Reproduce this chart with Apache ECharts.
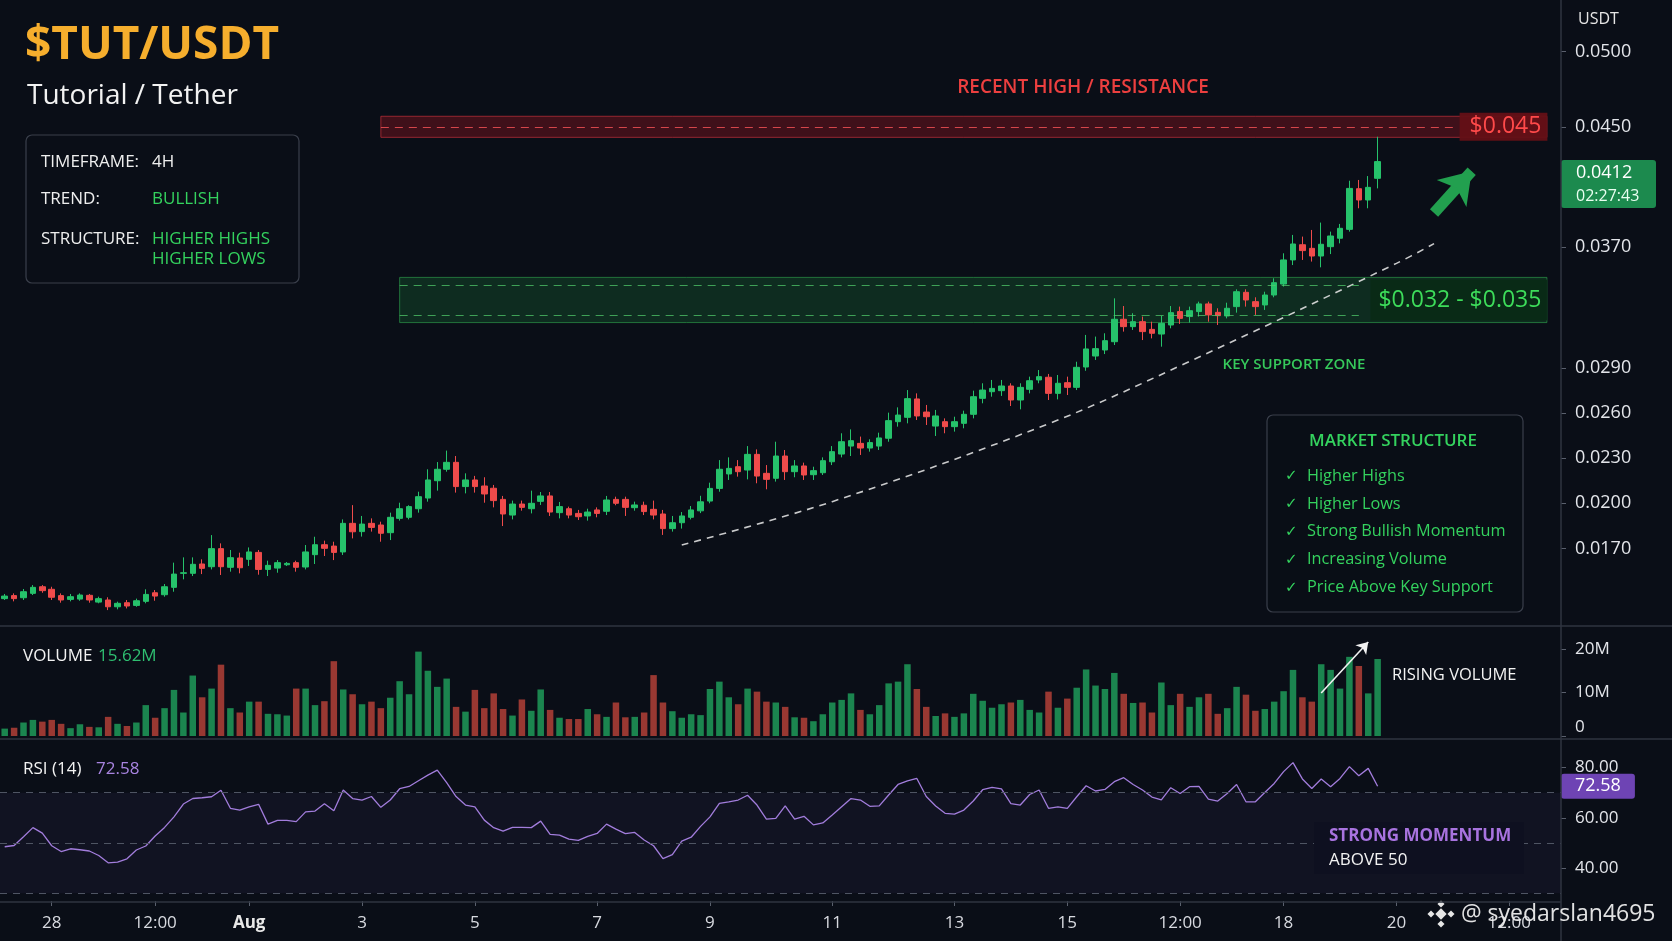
<!DOCTYPE html>
<html>
<head>
<meta charset="utf-8">
<script src="https://cdn.jsdelivr.net/npm/echarts@6/dist/echarts.min.js"></script>
<style>
html,body{margin:0;padding:0;background:#0a0e17;}
#chart{width:1672px;height:941px;}
</style>
</head>
<body>
<div id="chart"></div>
<script>
// ---------------- DATA ----------------
const opens = [0.01367,0.01387,0.01373,0.01402,0.01446,0.01429,0.01387,0.01362,0.01364,0.01389,
0.01344,0.01358,0.01313,0.01340,0.01322,0.01349,0.01406,0.01393,0.01442,0.01535,
0.01535,0.01597,0.01579,0.01699,0.01575,0.01637,0.01628,0.01674,0.01561,0.01570,
0.01592,0.01606,0.01577,0.01659,0.01725,0.01716,0.01677,0.01867,0.01812,0.01867,
0.01856,0.01805,0.01900,0.01907,0.01964,0.02035,0.02150,0.02226,0.02272,0.02111,
0.02155,0.02115,0.02100,0.02026,0.01922,0.01995,0.01964,0.02013,0.02049,0.01938,
0.01964,0.01933,0.01916,0.01956,0.01947,0.02026,0.02026,0.01971,0.01987,0.01960,
0.01929,0.01832,0.01871,0.01907,0.01950,0.02015,0.02099,0.02195,0.02243,0.02221,
0.02325,0.02199,0.02166,0.02314,0.02210,0.02248,0.02190,0.02203,0.02276,0.02327,
0.02380,0.02398,0.02367,0.02380,0.02432,0.02542,0.02571,0.02693,0.02606,0.02513,
0.02542,0.02509,0.02531,0.02591,0.02697,0.02741,0.02748,0.02779,0.02686,0.02757,
0.02819,0.02837,0.02730,0.02801,0.02770,0.02905,0.02978,0.03018,0.03073,0.03222,
0.03173,0.03206,0.03155,0.03124,0.03184,0.03273,0.03240,0.03273,0.03324,0.03268,
0.03244,0.03306,0.03401,0.03339,0.03317,0.03383,0.03456,0.03616,0.03717,0.03693,
0.03642,0.03704,0.03760,0.03819,0.04089,0.04014,0.04158];
const closes = [0.01384,0.01367,0.01413,0.01442,0.01420,0.01376,0.01358,0.01380,0.01391,0.01358,
0.01367,0.01313,0.01336,0.01318,0.01353,0.01395,0.01384,0.01446,0.01530,0.01539,
0.01595,0.01568,0.01699,0.01579,0.01639,0.01572,0.01677,0.01561,0.01588,0.01606,
0.01601,0.01575,0.01677,0.01725,0.01701,0.01674,0.01867,0.01811,0.01862,0.01840,
0.01801,0.01907,0.01964,0.01978,0.02044,0.02155,0.02226,0.02272,0.02111,0.02155,
0.02111,0.02062,0.02018,0.01929,0.01995,0.01973,0.02000,0.02049,0.01942,0.01978,
0.01922,0.01911,0.01942,0.01933,0.02022,0.02000,0.01973,0.01989,0.01945,0.01922,
0.01832,0.01871,0.01916,0.01956,0.02010,0.02099,0.02226,0.02232,0.02210,0.02325,
0.02181,0.02159,0.02314,0.02210,0.02248,0.02188,0.02217,0.02283,0.02343,0.02409,
0.02416,0.02367,0.02403,0.02434,0.02549,0.02586,0.02695,0.02580,0.02575,0.02580,
0.02509,0.02542,0.02591,0.02708,0.02752,0.02763,0.02779,0.02686,0.02770,0.02814,
0.02841,0.02730,0.02797,0.02770,0.02903,0.03025,0.03027,0.03080,0.03222,0.03173,
0.03206,0.03140,0.03129,0.03195,0.03266,0.03228,0.03279,0.03324,0.03251,0.03246,
0.03295,0.03405,0.03350,0.03306,0.03383,0.03465,0.03616,0.03722,0.03678,0.03642,
0.03720,0.03775,0.03826,0.04091,0.04014,0.04098,0.04269];
const lows = [0.01358,0.01349,0.01358,0.01391,0.01406,0.01358,0.01340,0.01349,0.01353,0.01340,
0.01336,0.01291,0.01296,0.01302,0.01313,0.01336,0.01353,0.01380,0.01413,0.01495,
0.01517,0.01530,0.01561,0.01524,0.01546,0.01535,0.01584,0.01526,0.01517,0.01539,
0.01584,0.01546,0.01561,0.01597,0.01650,0.01623,0.01657,0.01767,0.01779,0.01812,
0.01745,0.01756,0.01885,0.01893,0.01938,0.02011,0.02084,0.02210,0.02071,0.02066,
0.02071,0.02004,0.01973,0.01849,0.01893,0.01951,0.01933,0.01989,0.01916,0.01900,
0.01900,0.01889,0.01885,0.01907,0.01922,0.01987,0.01916,0.01951,0.01922,0.01893,
0.01790,0.01812,0.01832,0.01893,0.01935,0.02000,0.02077,0.02155,0.02177,0.02159,
0.02133,0.02093,0.02144,0.02155,0.02173,0.02155,0.02155,0.02188,0.02254,0.02305,
0.02314,0.02321,0.02343,0.02354,0.02409,0.02509,0.02531,0.02553,0.02520,0.02447,
0.02465,0.02476,0.02498,0.02564,0.02664,0.02708,0.02713,0.02646,0.02624,0.02730,
0.02797,0.02686,0.02690,0.02719,0.02752,0.02880,0.02952,0.02991,0.03051,0.03140,
0.03151,0.03084,0.03095,0.03040,0.03162,0.03191,0.03200,0.03240,0.03206,0.03184,
0.03228,0.03266,0.03306,0.03251,0.03284,0.03368,0.03439,0.03582,0.03616,0.03605,
0.03567,0.03655,0.03726,0.03804,0.03959,0.03959,0.04091];
const highs = [0.01398,0.01402,0.01431,0.01457,0.01457,0.01446,0.01402,0.01398,0.01402,0.01398,
0.01380,0.01376,0.01347,0.01358,0.01367,0.01429,0.01424,0.01464,0.01606,0.01641,
0.01641,0.01628,0.01789,0.01734,0.01690,0.01672,0.01707,0.01690,0.01619,0.01623,
0.01610,0.01619,0.01723,0.01778,0.01752,0.01745,0.01893,0.01988,0.01916,0.01900,
0.01878,0.01938,0.02004,0.01987,0.02077,0.02226,0.02274,0.02350,0.02314,0.02199,
0.02182,0.02173,0.02122,0.02049,0.02018,0.02018,0.02084,0.02075,0.02075,0.02009,
0.01978,0.01956,0.01964,0.01973,0.02049,0.02044,0.02044,0.02011,0.02011,0.02018,
0.01956,0.01916,0.01942,0.01982,0.02050,0.02137,0.02287,0.02305,0.02287,0.02380,
0.02358,0.02254,0.02409,0.02354,0.02287,0.02270,0.02243,0.02305,0.02380,0.02465,
0.02491,0.02443,0.02425,0.02469,0.02602,0.02637,0.02752,0.02730,0.02653,0.02620,
0.02564,0.02575,0.02615,0.02748,0.02797,0.02819,0.02819,0.02797,0.02797,0.02841,
0.02885,0.02859,0.02852,0.02841,0.02940,0.03118,0.03107,0.03129,0.03361,0.03310,
0.03262,0.03240,0.03206,0.03244,0.03310,0.03306,0.03306,0.03339,0.03339,0.03295,
0.03332,0.03421,0.03421,0.03368,0.03405,0.03494,0.03660,0.03782,0.03771,0.03815,
0.03864,0.03804,0.03855,0.04142,0.04147,0.04173,0.04434];
const volumes = [1.7e6,1.9e6,3.1e6,3.7e6,3.3e6,3.7e6,2.8e6,1.8e6,2.7e6,2.1e6,
2.0e6,4.4e6,2.8e6,2.3e6,3.1e6,7.1e6,4.2e6,6.4e6,10.6e6,5.4e6,
13.9e6,8.9e6,10.9e6,16.4e6,6.4e6,5.4e6,7.9e6,7.9e6,5.1e6,5.0e6,
4.7e6,10.9e6,10.9e6,7.1e6,8.0e6,17.2e6,10.7e6,9.6e6,7.3e6,
7.9e6,6.4e6,8.8e6,12.6e6,9.6e6,19.4e6,15.0e6,11.3e6,13.2e6,6.7e6,
5.6e6,10.6e6,6.4e6,9.8e6,6.2e6,4.7e6,8.4e6,5.8e6,10.7e6,
6.0e6,4.2e6,3.9e6,3.9e6,6.2e6,5.0e6,4.4e6,7.7e6,4.3e6,4.4e6,
5.4e6,14.0e6,7.7e6,5.7e6,4.2e6,5.0e6,
4.8e6,10.8e6,12.5e6,8.9e6,7.3e6,10.9e6,10.2e6,7.9e6,7.7e6,
6.7e6,4.3e6,4.2e6,3.4e6,5.0e6,7.7e6,8.3e6,9.8e6,6.0e6,5.0e6,
7.1e6,12.1e6,12.5e6,16.5e6,10.8e6,6.7e6,4.6e6,5.2e6,4.4e6,5.2e6,
9.7e6,8.1e6,6.5e6,7.3e6,7.7e6,8.3e6,6.0e6,5.4e6,10.2e6,6.5e6,
8.6e6,11.1e6,15.3e6,11.6e6,10.8e6,14.5e6,9.7e6,7.6e6,7.7e6,5.4e6,
12.3e6,7.1e6,9.7e6,6.7e6,8.9e6,9.7e6,5.1e6,6.4e6,11.3e6,9.5e6,
5.8e6,6.2e6,7.9e6,10.3e6,15.2e6,8.9e6,7.9e6,16.5e6,15.2e6,10.9e6,
18.2e6,16.1e6,9.8e6,17.7e6];
const rsi = [48.5,49.0,52.5,56.1,53.9,48.9,46.6,47.7,47.3,46.8,
45.0,42.1,42.4,43.7,47.2,48.8,52.8,56.2,60.4,65.5,
67.7,68.0,68.4,71.0,63.8,63.1,64.4,65.4,57.5,59.0,
59.0,58.5,62.4,62.7,65.6,62.8,71.1,67.7,67.1,68.5,
64.2,67.1,71.6,72.5,74.8,77.0,79.0,74.0,68.5,65.1,
64.4,59.1,56.1,54.7,56.2,56.2,56.1,58.7,53.4,53.1,
51.5,51.0,52.6,53.8,57.5,55.5,53.7,54.2,51.2,48.9,
43.8,45.4,50.7,52.3,56.6,60.4,65.8,66.4,67.1,69.0,
65.1,59.5,59.8,64.8,59.5,60.6,57.2,58.0,61.1,64.4,
67.7,67.1,64.6,64.8,69.1,73.3,74.7,75.7,68.5,64.7,
61.8,61.5,63.1,66.7,71.2,72.1,71.5,65.7,65.1,69.3,
71.1,63.8,64.4,63.8,68.4,72.8,70.7,71.3,74.4,76.0,
73.3,71.1,68.3,67.2,72.0,69.7,72.4,72.5,67.5,66.7,
69.7,73.3,66.4,66.4,70.1,73.7,78.4,82.0,75.5,71.7,
75.5,72.4,75.7,80.4,76.8,79.7,72.58];

const futureSlots = 19;                       // empty 4H slots right of the last candle
const categories = Array.from({length: opens.length + futureSlots}, (_, i) => 'bar' + i);
const xTickIndex = [5,16,26,38,50,63,75,88,101,113,125,136,148,160];
const xTickText  = ['28','12:00','Aug','3','5','7','9','11','13','15','12:00','18','20','12:00'];
const priceTicks  = [0.017,0.020,0.023,0.026,0.029,0.037,0.045,0.050];
const volumeTicks = [0,10e6,20e6];
const rsiTicks    = [40,60,80];

const resistance = 0.045;
const supportZone = [0.032, 0.035];
const lastPrice = 0.0412;
const countdown = '02:27:43';
const volumeLabel = '15.62M';
const trendLine = [[72,0.01723],[88,0.02011],[111,0.02528],[126,0.02942],[148,0.03593],[152,0.03724]];
const bullArrow = [[152,0.03928],[156,0.04205]];
const volArrow = [[140,9.9e6],[145,21.6e6]];
const structureItems = ['Higher Highs','Higher Lows','Strong Bullish Momentum','Increasing Volume','Price Above Key Support'];

// ---------------- STYLE ----------------
const FF = '"Open Sans","DejaVu Sans",sans-serif';
const BG = '#0a0e17';
const UP = '#26c26b', DOWN = '#ef4b4b';
const GREEN_TXT = '#34d25e';
const LINE = '#2f3441';
const AXIS_X = 1561;

const tickSet = new Map(xTickIndex.map((k, i) => [k, xTickText[i]]));

function txt(x, y, text, size, color, weight, align) {
  return {type:'text', x, y, z:60, silent:true, style:{
    text, fill: color, font: (weight||'normal') + ' ' + size + 'px ' + FF,
    align: align||'left', verticalAlign:'middle', textAlign: align||'left', textVerticalAlign:'middle'}};
}
function hline(y, x1, x2) {
  return {type:'line', z:40, silent:true, shape:{x1, y1:y, x2, y2:y}, style:{stroke:LINE, lineWidth:1.5}};
}

const candleData = opens.map((o, i) => [o, closes[i], lows[i], highs[i]]);
const lastRsi = rsi[rsi.length - 1];
const zoneInset = (supportZone[1] - supportZone[0]) * 0.17;
const resHalf = 0.0007;

const baseX = {type:'category', data:categories, boundaryGap:true,
  axisLine:{show:false}, axisTick:{show:false}, axisLabel:{show:false}, splitLine:{show:false}};

const graphics = [
  hline(626, 0, 1672), hline(739, 0, 1672), hline(902, 0, AXIS_X),
  {type:'line', z:40, silent:true, shape:{x1:AXIS_X, y1:0, x2:AXIS_X, y2:941}, style:{stroke:LINE, lineWidth:1.5}},
  // title
  txt(25, 46, '$TUT/USDT', 46, '#f6ae2d', 'bold'),
  txt(27, 96, 'Tutorial / Tether', 28, '#f2f2f2'),
  // info box
  {type:'rect', z:55, silent:true, shape:{x:26, y:135, width:273, height:148, r:6},
    style:{fill:'rgba(10,14,23,0.9)', stroke:'#3a3f4b', lineWidth:1.2}},
  txt(41, 162, 'TIMEFRAME:', 17, '#eeeeee'), txt(152, 162, '4H', 17, '#eeeeee'),
  txt(41, 199, 'TREND:', 17, '#eeeeee'), txt(152, 199, 'BULLISH', 17, GREEN_TXT),
  txt(41, 239, 'STRUCTURE:', 17, '#eeeeee'), txt(152, 239, 'HIGHER HIGHS', 17, GREEN_TXT),
  txt(152, 259.5, 'HIGHER LOWS', 17, GREEN_TXT),
  // annotations
  txt(1083, 87.5, 'RECENT HIGH / RESISTANCE', 19, '#ec3f3f', '600', 'center'),
  txt(1294, 365, 'KEY SUPPORT ZONE', 15, '#36c95b', '600', 'center'),
  // market structure box
  {type:'rect', z:55, silent:true, shape:{x:1267, y:415, width:256, height:197, r:6},
    style:{fill:'rgba(10,14,23,0.92)', stroke:'#3a3f4b', lineWidth:1.2}},
  txt(1393, 441, 'MARKET STRUCTURE', 17, GREEN_TXT, '600', 'center'),
  ...structureItems.flatMap((s, i) => [txt(1285, 476 + i * 27.9, '✓', 15, GREEN_TXT), txt(1307, 476 + i * 27.9, s, 16.3, GREEN_TXT)]),
  // volume / rsi labels
  txt(23, 656, 'VOLUME', 17, '#f2f2f2'), txt(98, 656, volumeLabel, 17, '#2fbf71'),
  txt(1392, 675, 'RISING VOLUME', 16.5, '#f2f2f2'),
  txt(23, 769, 'RSI (14)', 17, '#f2f2f2'), txt(96, 769, lastRsi.toFixed(2), 17, '#a884e0'),
  {type:'rect', z:50, silent:true, shape:{x:1314, y:822, width:210, height:52}, style:{fill:'#0e1020'}},
  txt(1329, 836, 'STRONG MOMENTUM', 17, '#a873df', 'bold'),
  txt(1329, 860.5, 'ABOVE 50', 17, '#f2f2f2'),
  txt(1578, 19, 'USDT', 16, '#e6e6e6'),
  // watermark
  {type:'group', x:1441, y:914, z:70, silent:true, children:[
    {type:'rect', rotation:Math.PI/4, shape:{x:-4, y:-4, width:8, height:8}, style:{fill:'#e6e6e6'}},
    {type:'rect', rotation:Math.PI/4, x:0, y:-10, shape:{x:-2.5, y:-2.5, width:5, height:5}, style:{fill:'#e6e6e6'}},
    {type:'rect', rotation:Math.PI/4, x:0, y:10, shape:{x:-2.5, y:-2.5, width:5, height:5}, style:{fill:'#e6e6e6'}},
    {type:'rect', rotation:Math.PI/4, x:-10, y:0, shape:{x:-2.5, y:-2.5, width:5, height:5}, style:{fill:'#e6e6e6'}},
    {type:'rect', rotation:Math.PI/4, x:10, y:0, shape:{x:-2.5, y:-2.5, width:5, height:5}, style:{fill:'#e6e6e6'}}
  ]},
  txt(1461, 914, '@ syedarslan4695', 23, 'rgba(238,238,238,0.95)')
];

const hiddenLine = {color:'rgba(0,0,0,0)', width:0, type:'solid'};

const option = {
  backgroundColor: BG,
  animation: false,
  textStyle: {fontFamily: FF},
  grid: [
    {left:0, right:1672-AXIS_X, top:0, height:626, outerBoundsMode:'none'},
    {left:0, right:1672-AXIS_X, top:626, height:110, outerBoundsMode:'none'},
    {left:0, right:1672-AXIS_X, top:741, height:160, outerBoundsMode:'none'}
  ],
  xAxis: [
    {...baseX, gridIndex:0},
    {...baseX, gridIndex:1},
    {...baseX, gridIndex:2,
      axisTick:{show:true, alignWithLabel:true, interval:(i) => tickSet.has(i), length:5, lineStyle:{color:'#5a606d'}},
      axisLabel:{show:true, interval:(i) => tickSet.has(i), hideOverlap:false,
        formatter:(v, i) => { const t = tickSet.get(i) || ''; return t === 'Aug' ? '{b|Aug}' : t; },
        color:'#d8dae0', fontSize:17, margin:14, fontFamily:FF,
        rich:{b:{fontWeight:'bold', fontSize:17, color:'#e8e8e8', fontFamily:FF}}}}
  ],
  yAxis: [
    {gridIndex:0, type:'value', position:'right', min:0.011853, max:0.05342,
      axisLine:{show:false}, splitLine:{show:false},
      axisTick:{show:true, customValues:priceTicks, length:5, lineStyle:{color:'#5a606d'}},
      axisLabel:{customValues:priceTicks, formatter:(v) => v.toFixed(4), color:'#e3e5ea', fontSize:18, margin:14, fontFamily:FF}},
    {gridIndex:1, type:'value', position:'right', min:0, max:25.29e6,
      axisLine:{show:false}, splitLine:{show:false},
      axisTick:{show:true, customValues:volumeTicks, length:5, lineStyle:{color:'#5a606d'}},
      axisLabel:{customValues:volumeTicks, color:'#e3e5ea', fontSize:17, margin:14, fontFamily:FF,
        formatter:(v) => v === 0 ? '{z|0}' : (v / 1e6) + 'M',
        rich:{z:{fontSize:17, color:'#e3e5ea', padding:[0,0,18,0], fontFamily:FF}}}},
    {gridIndex:2, type:'value', position:'right', min:26.9, max:90.6,
      axisLine:{show:false}, splitLine:{show:false},
      axisTick:{show:true, customValues:rsiTicks, length:5, lineStyle:{color:'#5a606d'}},
      axisLabel:{customValues:rsiTicks, formatter:(v) => v.toFixed(2), color:'#e3e5ea', fontSize:17, margin:14, fontFamily:FF}}
  ],
  series: [
    {type:'candlestick', name:'TUT/USDT', xAxisIndex:0, yAxisIndex:0, data:candleData, barWidth:6,
      itemStyle:{color:UP, color0:DOWN, borderColor:UP, borderColor0:DOWN, borderWidth:1},
      markArea:{silent:true, data:[
        [{coord:[40, resistance - resHalf], itemStyle:{color:'rgba(150,22,32,0.38)', borderColor:'rgba(225,55,65,0.6)', borderWidth:1},
          label:{show:true, position:'insideRight', distance:0, formatter:'$' + resistance.toFixed(3),
            color:'#ff4a4a', fontSize:23, fontFamily:FF, backgroundColor:'rgba(100,16,22,0.95)', padding:[3,6,2,10]}},
         {coord:[164, resistance + resHalf]}],
        [{coord:[42, supportZone[0]], itemStyle:{color:'rgba(26,115,52,0.30)', borderColor:'rgba(46,160,75,0.65)', borderWidth:1},
          label:{show:true, position:'insideRight', distance:0,
            formatter:'$' + supportZone[0].toFixed(3) + ' - $' + supportZone[1].toFixed(3),
            color:'#3ddc5a', fontSize:23, fontFamily:FF, backgroundColor:'rgba(10,42,22,0.95)', padding:[9,6,9,8]}},
         {coord:[164, supportZone[1]]}]
      ]},
      markLine:{silent:true, symbol:'none', animation:false, data:[
        [{coord:[40, resistance], lineStyle:{color:'rgba(240,80,85,0.85)', type:[8,6], width:1.2}, label:{show:false}},
         {coord:[154, resistance]}],
        [{coord:[42, supportZone[0] + zoneInset], lineStyle:{color:'rgba(80,200,105,0.75)', type:[8,6], width:1.2}, label:{show:false}},
         {coord:[144, supportZone[0] + zoneInset]}],
        [{coord:[42, supportZone[1] - zoneInset], lineStyle:{color:'rgba(80,200,105,0.75)', type:[8,6], width:1.2}, label:{show:false}},
         {coord:[144, supportZone[1] - zoneInset]}],
        [{coord:bullArrow[0], symbol:'none', lineStyle:{width:11, type:'solid', color:'#22a04f'}, label:{show:false}},
         {coord:bullArrow[1], symbol:'arrow', symbolSize:30, itemStyle:{color:'#2fbf5c'}}]
      ]}
    },
    {type:'line', name:'trend', xAxisIndex:0, yAxisIndex:0, data:trendLine, smooth:0.35, showSymbol:false, silent:true,
      lineStyle:{color:'rgba(235,235,235,0.85)', type:[7,6], width:1.6}, z:3},
    {type:'bar', name:'Volume', xAxisIndex:1, yAxisIndex:1, data:volumes, barWidth:6.5,
      itemStyle:{color:(p) => closes[p.dataIndex] >= opens[p.dataIndex] ? 'rgba(32,160,92,0.82)' : 'rgba(186,66,56,0.82)'},
      markLine:{silent:true, animation:false, data:[
        [{coord:volArrow[0], symbol:'none', lineStyle:{color:'#f2f2f2', width:1.6, type:'solid'}, label:{show:false}},
         {coord:volArrow[1], symbol:'arrow', symbolSize:11, itemStyle:{color:'#f2f2f2'}}]
      ]}
    },
    {type:'line', name:'RSI (14)', xAxisIndex:2, yAxisIndex:2, data:rsi, showSymbol:false, silent:true,
      lineStyle:{color:'#a27ddc', width:1.3},
      markArea:{silent:true, itemStyle:{color:'rgba(110,80,190,0.07)'}, data:[[{yAxis:30},{yAxis:70}]]},
      markLine:{silent:true, symbol:'none', animation:false, data:[
        {yAxis:70, lineStyle:{color:'#4f5563', type:[7,6], width:1.2}, label:{show:false}},
        {yAxis:50, lineStyle:{color:'#4f5563', type:[7,6], width:1.2}, label:{show:false}},
        {yAxis:30, lineStyle:{color:'#4f5563', type:[7,6], width:1.2}, label:{show:false}},
        {yAxis:lastRsi, lineStyle:hiddenLine,
          label:{show:true, position:'end', distance:0, formatter:lastRsi.toFixed(2),
            backgroundColor:'#6e44b4', borderRadius:3, padding:[4,14,3,14], color:'#ffffff', fontSize:18, fontFamily:FF}}
      ]}
    }
  ],
  graphic: graphics
};

const chart = echarts.init(document.getElementById('chart'), null, {renderer:'canvas'});
chart.setOption(option);

// current-price tag, placed through the price axis scale
const py = chart.convertToPixel({yAxisIndex:0}, lastPrice);
const priceTag = {type:'group', x:AXIS_X, y:py, z:80, silent:true, children:[
  {type:'rect', shape:{x:0, y:-24, width:95, height:48, r:3}, style:{fill:'#1c8a4e'}},
  {type:'text', x:15, y:-11, style:{text:lastPrice.toFixed(4), fill:'#ffffff', font:'18px ' + FF,
    align:'left', verticalAlign:'middle', textAlign:'left', textVerticalAlign:'middle'}},
  {type:'text', x:15, y:12, style:{text:countdown, fill:'#e9fff1', font:'16px ' + FF,
    align:'left', verticalAlign:'middle', textAlign:'left', textVerticalAlign:'middle'}}
]};
chart.setOption({graphic: graphics.concat([priceTag])});
</script>
</body>
</html>
